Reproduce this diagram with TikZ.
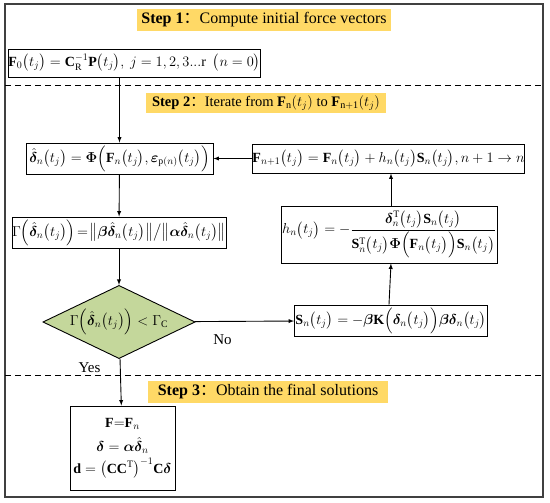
\documentclass[tikz,border=0pt]{standalone}
\usepackage{amsmath}
\usepackage{bm}
\usepackage{fontspec}
\setmainfont{Liberation Serif}
\newfontfamily\cjk{Noto Sans CJK SC}
\usetikzlibrary{shapes.geometric}

\definecolor{stepyellow}{RGB}{255,217,102}
\definecolor{checkgreen}{RGB}{196,215,155}
\definecolor{framegray}{RGB}{64,64,64}

\newcommand{\tj}{\bigl(t_j\bigr)}
\newcommand{\dhat}{\hat{\bm{\delta}}}
\newcommand{\stepcolon}{{\cjk ：}}

\begin{document}
\begin{tikzpicture}%
  [>=latex,
   x=1pt, y=-1pt,
   font=\fontsize{15}{18}\selectfont,
   box/.style={draw, line width=0.9pt, inner sep=0pt, font=\fontsize{14}{17}\selectfont},
   stepbanner/.style={fill=stepyellow, inner sep=0pt, font=\fontsize{16}{19}\selectfont},
   separator/.style={dashed, line width=0.9pt, dash pattern=on 6pt off 4pt},
  ]
\fill[white] (0,0) rectangle (550,503);
\useasboundingbox (0,0) rectangle (550,503);
\draw[framegray, line width=1.6pt] (5,4) rectangle (543,497);
\draw[separator] (5,85) -- (543,85);
\draw[separator] (5,375) -- (543,375);

\node[stepbanner, minimum width=254pt, minimum height=22pt] (s1) at (264,20)
  {\textbf{Step 1}\stepcolon Compute initial force vectors};
\node[stepbanner, minimum width=240pt, minimum height=20pt, font=\fontsize{14.5}{17}\selectfont] (s2) at (266,103)
  {\textbf{Step 2}\stepcolon Iterate from $\mathbf{F}_{\mathrm{n}}(t_j)$ to $\mathbf{F}_{\mathrm{n+1}}(t_j)$};
\node[stepbanner, minimum width=240pt, minimum height=22pt] (s3) at (268,392)
  {\textbf{Step 3}\stepcolon Obtain the final solutions};

\node[box, minimum width=245pt, minimum height=28pt] (1) at (134.5,63)
  {$\mathbf{F}_0\tj=\mathbf{C}_{\mathrm{R}}^{-1}\mathbf{P}\tj,\ j=1,2,3...\mathrm{r}\ \ \bigl(n=0\bigr)$};
\node[box, minimum width=187pt, minimum height=31pt] (2) at (119.5,158.5)
  {$\dhat_n\tj=\bm{\Phi}\Bigl(\mathbf{F}_n\tj,\bm{\varepsilon}_{\mathrm{p}(n)}\tj\Bigr)$};
\node[box, minimum width=212pt, minimum height=31pt] (3) at (119,232.5)
  {$\Gamma\Bigl(\dhat_n\tj\Bigr)\!=\!\bigl\|\bm{\beta}\dhat_n\tj\bigr\|\big/\bigl\|\bm{\alpha}\dhat_n\tj\bigr\|$};
\node[diamond, draw, fill=checkgreen, line width=0.9pt, aspect=2.08, inner sep=0pt,
      minimum width=150pt, minimum height=72pt, font=\fontsize{14}{17}\selectfont] (4) at (119,322)
  {$\Gamma\Bigl(\dhat_n\tj\Bigr)<\Gamma_{\mathrm{C}}$};
\node[box, minimum width=193pt, minimum height=31pt] (5) at (391,320.5)
  {$\mathbf{S}_n\tj=-\bm{\beta}\mathbf{K}\Bigl(\bm{\delta}_n\tj\Bigr)\bm{\beta}\bm{\delta}_n\tj$};
\node[box, minimum width=216pt, minimum height=57pt] (6) at (389,234.5)
  {$h_n\tj=-\dfrac{\bm{\delta}_n^{\mathrm{T}}\tj\mathbf{S}_n\tj}{\mathbf{S}_n^{\mathrm{T}}\tj\bm{\Phi}\Bigl(\mathbf{F}_n\tj\Bigr)\mathbf{S}_n\tj}$};
\node[box, minimum width=269pt, minimum height=29pt] (7) at (388.5,158.5)
  {$\mathbf{F}_{n+1}\tj=\mathbf{F}_n\tj+h_n\tj\mathbf{S}_n\tj,n+1\rightarrow n$};
\node[box, minimum width=105pt, minimum height=84pt, align=center] (8) at (122.5,448)
  {$\mathbf{F}{=}\mathbf{F}_n$\\[7pt] $\bm{\delta}=\bm{\alpha}\dhat_n$\\[5pt] $\mathbf{d}=\bigl(\mathbf{CC}^{\mathrm{T}}\bigr)^{-1}\mathbf{C}\bm{\delta}$};

\path[->, line width=0.9pt]
%   FROM             LABEL                              TO
   (1.south -| 2) edge                                        (2)
   (2)            edge                                        (3)
   (3)            edge                                        (4)
   (4)            edge node[pos=0.28, below=9pt] {No}         (5)
   (4)            edge node[pos=0.2, left=16pt]  {Yes}        (8)
   (5.north -| 6) edge                                        (6.south -| 5)
   (6.north -| 5) edge                                        (7.south -| 5)
   (7)            edge                                        (2)
           ;
\end{tikzpicture}
\end{document}
